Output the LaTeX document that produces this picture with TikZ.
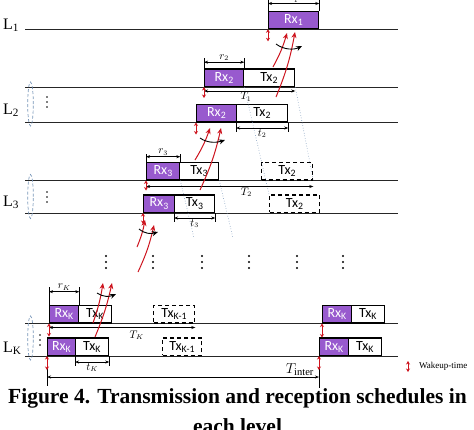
\documentclass[tikz,border=0pt]{standalone}
\usepackage{fontspec}
\setmainfont{Liberation Serif}
\newfontfamily\boxfont{Carlito}
\usetikzlibrary{arrows.meta}
\definecolor{purp}{RGB}{152,90,206}
\definecolor{dotblue}{RGB}{120,150,185}
\definecolor{wred}{RGB}{205,20,30}
\begin{document}
\begin{tikzpicture}[x=1pt,y=-1pt,
  lvl/.style={draw=black!85,line width=0.9pt},
  box/.style={draw=black,line width=1.3pt,minimum height=17.5pt,inner sep=0pt,anchor=south west,font=\boxfont\fontsize{14}{14}\selectfont},
  rxs/.style={box,fill=purp,text=white},
  txs/.style={box,fill=white},
  txd/.style={box,fill=white,dash pattern=on 4pt off 3pt},
  dim/.style={{Stealth[length=4pt,width=3pt]}-{Stealth[length=4pt,width=3pt]},line width=0.6pt},
  tickl/.style={line width=0.6pt},
  lab/.style={font=\fontsize{10.5}{10.5}\selectfont,inner sep=1pt},
  wake/.style={wred,line width=0.9pt,{Stealth[length=3.5pt,width=4pt]}-{Stealth[length=3.5pt,width=4pt]}},
  recv/.style={wred,line width=1pt,-{Stealth[length=6pt,width=5pt]}},
  turn/.style={black,line width=0.9pt,-{Stealth[length=6pt,width=5pt]}},
  proj/.style={dotblue,line width=0.6pt,dotted},
  lvlname/.style={font=\fontsize{16}{16}\selectfont,anchor=base west,inner sep=0pt},
  grp/.style={dotblue,line width=0.7pt,dash pattern=on 3pt off 2pt}
]
\useasboundingbox (0,0) rectangle (474,429);

% level lines
\foreach \yy in {29.3,87,122.5,180.5,213,323.5,356}
  \draw[lvl] (25,\yy) -- (398,\yy);

% group markers
\draw[grp] (30.5,104) ellipse (2.8pt and 22pt);
\draw[grp] (30.5,196.5) ellipse (2.8pt and 22pt);
\draw[grp] (30.5,338) ellipse (2.8pt and 22pt);
\foreach \yy in {97,102,107} \fill (47,\yy) circle (0.9pt);
\foreach \yy in {192,197,202} \fill (47,\yy) circle (0.9pt);
\foreach \yy in {335,340,345} \fill (40,\yy) circle (0.9pt);

% level names
\node[lvlname] (l1) at (3,29) {L\textsubscript{1}};
\node[lvlname] (l2) at (3,114) {L\textsubscript{2}};
\node[lvlname] (l3) at (3,206) {L\textsubscript{3}};
\node[lvlname] (lk) at (3,352) {L\textsubscript{K}};

% boxes
\node[rxs,minimum width=50pt] (rx1) at (268,29.3) {Rx\textsubscript{1}};
\node[rxs,minimum width=39pt] (rx2a) at (204,87) {Rx\textsubscript{2}};
\node[txs,minimum width=51pt] (tx2a) at (243,87) {Tx\textsubscript{2}};
\node[rxs,minimum width=40pt] (rx2b) at (196,122.5) {Rx\textsubscript{2}};
\node[txs,minimum width=51pt] (tx2b) at (236,122.5) {Tx\textsubscript{2}};
\node[rxs,minimum width=33pt] (rx3a) at (146,180.5) {Rx\textsubscript{3}};
\node[txs,minimum width=39pt] (tx3a) at (179,180.5) {Tx\textsubscript{3}};
\node[txd,minimum width=51pt] (tx2d) at (261,180.5) {Tx\textsubscript{2}};
\node[rxs,minimum width=31pt] (rx3b) at (143,213) {Rx\textsubscript{3}};
\node[txs,minimum width=40pt] (tx3b) at (174,213) {Tx\textsubscript{3}};
\node[txd,minimum width=50pt] (tx2e) at (269,213) {Tx\textsubscript{2}};
\node[rxs,minimum width=29pt] (rxka) at (49,323.5) {Rx\textsubscript{K}};
\node[txs,minimum width=33pt] (txka) at (78,323.5) {Tx\textsubscript{K}};
\node[txd,minimum width=41pt] (txk1a) at (153,323.5) {Tx\textsubscript{K-1}};
\node[rxs,minimum width=28pt] (rxkb) at (47,356) {Rx\textsubscript{K}};
\node[txs,minimum width=33pt] (txkb) at (75,356) {Tx\textsubscript{K}};
\node[txd,minimum width=39pt] (txk1b) at (162,356) {Tx\textsubscript{K-1}};
\node[rxs,minimum width=29pt] (rxkc) at (322,323.5) {Rx\textsubscript{K}};
\node[txs,minimum width=33pt] (txkc) at (351,323.5) {Tx\textsubscript{K}};
\node[rxs,minimum width=29pt] (rxkd) at (319,356) {Rx\textsubscript{K}};
\node[txs,minimum width=33pt] (txkd) at (348,356) {Tx\textsubscript{K}};

% projection dotted lines
\coordinate (p3a) at (194,238);
\coordinate (p3b) at (233,238);
\draw[proj] (rx2a.south east) -- (tx2e.north west);
\draw[proj] (tx2a.south east) -- (tx2d.south east);
\draw[proj] (rx3a.south east) -- (p3a);
\draw[proj] (tx3a.south east) -- (p3b);

% dimension arrows
\draw[tickl] (rx1.north west) -- ++(0,-13) (rx1.north east) -- ++(0,-13);
\draw[dim] ([yshift=7pt]rx1.north west) -- ([yshift=7pt]rx1.north east) node[midway,above,lab]{$r_1$};
\draw[tickl] (rx2a.north west) -- ++(0,-10) (rx2a.north east) -- ++(0,-10);
\draw[dim] ([yshift=6pt]rx2a.north west) -- ([yshift=6pt]rx2a.north east) node[midway,above,lab]{$r_2$};
\draw[dim] ([yshift=-4pt]rx2a.south west) -- ([yshift=-4pt]tx2a.south east) node[pos=0.46,below,lab]{$T_1$};
\draw[tickl] (tx2b.south west) -- ++(0,9) (tx2b.south east) -- ++(0,9);
\draw[dim] ([yshift=-5.5pt]tx2b.south west) -- ([yshift=-5.5pt]tx2b.south east) node[midway,below,lab]{$t_2$};
\draw[tickl] (rx3a.north west) -- ++(0,-8) (rx3a.north east) -- ++(0,-8);
\draw[dim] ([yshift=5pt]rx3a.north west) -- ([yshift=5pt]rx3a.north east) node[midway,above,lab]{$r_3$};
\draw[dim] ([yshift=-6pt]rx3a.south west) -- ([yshift=-6pt]tx2d.south east) node[pos=0.6,below,lab]{$T_2$};
\draw[tickl] (tx3b.south west) -- ++(0,9) (tx3b.south east) -- ++(0,9);
\draw[dim] ([yshift=-5pt]tx3b.south west) -- ([yshift=-5pt]tx3b.south east) node[midway,below,lab]{$t_3$};
\draw[tickl] (rxka.north west) -- ++(0,-18) (rxka.north east) -- ++(0,-18);
\draw[dim] ([yshift=13pt]rxka.north west) -- ([yshift=13pt]rxka.north east) node[midway,above,lab]{$r_K$};
\draw[dim] ([yshift=-4pt]rxka.south west) -- ([yshift=-4pt]txk1a.south east) node[pos=0.6,below,lab,yshift=-2pt]{$T_K$};
\draw[tickl] (txkb.south west) -- ++(0,10) (txkb.south east) -- ++(0,10);
\draw[dim] ([yshift=-6pt]txkb.south west) -- ([yshift=-6pt]txkb.south east) node[midway,below,lab]{$t_K$};
\draw[tickl] (rxkb.south west) -- ++(0,30) (rxkd.south west) -- ++(0,32);
\draw[dim] ([yshift=-21pt]rxkb.south west) -- ([yshift=-21pt]rxkd.south west) node[pos=0.93,above,inner sep=1pt,font=\fontsize{15}{15}\selectfont]{$T_{\mathrm{\scriptstyle inter}}$};

% wakeup markers
\draw[wake] (rx1.south west) -- ++(0,12);
\draw[wake] (rx2a.south west) -- ++(0,11);
\draw[wake] (rx2b.south west) -- ++(0,12);
\draw[wake] (rx3a.south west) -- ++(0,10);
\draw[wake] (rx3b.south west) -- ++(0,11);
\draw[wake] (rxka.south west) -- ++(0,13);
\draw[wake] (rxkb.south west) -- ++(0,14);
\draw[wake] (rxkc.south west) -- ++(0,14);
\draw[wake] (rxkd.south west) -- ++(0,14);

% reception arrows L2 -> L1
\coordinate (s1a) at (273,67); \coordinate (e1a) at (287,33);
\coordinate (s1b) at (276,97); \coordinate (e1b) at (295,32);
\draw[recv] (s1a) to[bend right=6] (e1a);
\draw[recv] (s1b) to[bend right=6] (e1b);
\draw[turn] (276,44) .. controls (284,50) and (294,50) .. (302,46);
% L3 -> L2
\coordinate (s2a) at (195,160); \coordinate (e2a) at (210,128);
\coordinate (s2b) at (200,190); \coordinate (e2b) at (221,128);
\draw[recv] (s2a) to[bend right=6] (e2a);
\draw[recv] (s2b) to[bend right=6] (e2b);
\draw[turn] (200,138) .. controls (207,143) and (216,143) .. (225,140);
% LK -> L3
\coordinate (s3a) at (137,247); \coordinate (e3a) at (145,220);
\coordinate (s3b) at (138,272); \coordinate (e3b) at (154,225);
\draw[recv] (s3a) to[bend right=6] (e3a);
\draw[recv] (s3b) to[bend right=6] (e3b);
\draw[turn] (139,229) .. controls (145,234) and (151,234) .. (158,232);
% LK -> upward
\coordinate (s4a) at (93,323); \coordinate (e4a) at (103,283);
\coordinate (s4b) at (95,337); \coordinate (e4b) at (112,283);
\draw[recv] (s4a) to[bend right=5] (e4a);
\draw[recv] (s4b) to[bend right=5] (e4b);
\draw[turn] (97,293) .. controls (103,297) and (109,297) .. (116,294);

% vertical dots
\foreach \xx in {106,153,202,249,297,343}
  \foreach \yy in {256,262,268}
    \fill (\xx,\yy) circle (1.1pt);

% legend
\draw[wake] (408,361) -- (408,372);
\node[anchor=west,inner sep=0pt,font=\fontsize{9}{9}\selectfont] (wk) at (419,366.5) {Wakeup-time};

% caption
\node[anchor=base,inner sep=0pt,font=\bfseries\fontsize{21.5}{22}\selectfont] (cap1) at (237.5,403) {Figure 4. Transmission and reception schedules in};
\node[anchor=base,inner sep=0pt,font=\bfseries\fontsize{21.5}{22}\selectfont] (cap2) at (237.5,433) {each level};
\end{tikzpicture}
\end{document}
